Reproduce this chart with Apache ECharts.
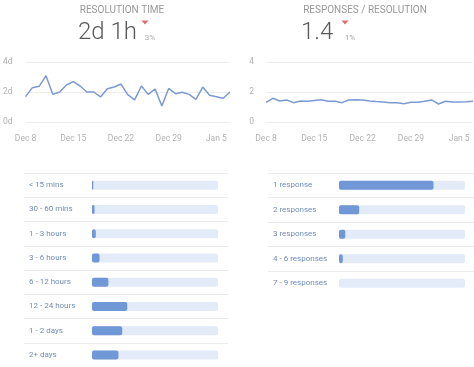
<!DOCTYPE html>
<html><head><meta charset="utf-8">
<script src="https://cdn.jsdelivr.net/npm/echarts@6/dist/echarts.min.js"></script>
<style>html,body{margin:0;padding:0;background:#fff}#c{width:474px;height:367px}</style>
</head><body><div id="c"></div>
<script>
const dates = ['Dec 8','Dec 9','Dec 10','Dec 11','Dec 12','Dec 13','Dec 14','Dec 15','Dec 16','Dec 17','Dec 18','Dec 19','Dec 20','Dec 21','Dec 22','Dec 23','Dec 24','Dec 25','Dec 26','Dec 27','Dec 28','Dec 29','Dec 30','Dec 31','Jan 1','Jan 2','Jan 3','Jan 4','Jan 5','Jan 6','Jan 7'];
const resolutionDays = [1.69,2.29,2.38,3.09,1.84,2.0,2.47,2.69,2.4,2.0,2.0,1.67,2.22,2.33,2.53,1.82,1.47,2.4,1.84,2.2,1.07,2.24,1.89,1.98,1.84,1.51,2.33,1.78,1.69,1.58,2.0];
const responsesPerRes = [1.31,1.58,1.4,1.47,1.29,1.4,1.38,1.44,1.49,1.38,1.38,1.29,1.47,1.49,1.47,1.4,1.36,1.33,1.29,1.29,1.22,1.31,1.31,1.38,1.47,1.2,1.38,1.33,1.33,1.35,1.38];
const leftYTicks = ['0d','2d','4d'];
const timeBuckets = ['< 15 mins','30 - 60 mins','1 - 3 hours','3 - 6 hours','6 - 12 hours','12 - 24 hours','1 - 2 days','2+ days'];
const timeShares = [1,2,3,6,13,28,24,21];
const respBuckets = ['1 response','2 responses','3 responses','4 - 6 responses','7 - 9 responses'];
const respShares = [75,16,5,3,0];
const kpiLeft = {title:'RESOLUTION TIME', value:'2d 1h', change:'3%'};
const kpiRight = {title:'RESPONSES / RESOLUTION', value:'1.4', change:'1%'};

const FONT = 'Roboto';
const lineColor = '#7b9ad3';
const barColor = '#7097d6';
const bgColor = '#e4ebf8';
const labelColor = '#728db4';
const axisColor = '#b3b3b3';
const sepColor = '#ececec';

const chart = echarts.init(document.getElementById('c'), null, {renderer:'canvas'});

function lineGrid(left, width){ return {left:left, top:62, width:width, height:60}; }

const option = {
  animation:false,
  textStyle:{fontFamily:FONT},
  title:[
    {text:kpiLeft.title, left:117, top:0, textAlign:'center', textStyle:{fontSize:10, fontWeight:'normal', color:'#999', fontFamily:FONT}},
    {text:kpiRight.title, left:360, top:0, textAlign:'center', textStyle:{fontSize:10, fontWeight:'normal', color:'#999', fontFamily:FONT}},
    {text:kpiLeft.value, left:73, top:16, textStyle:{fontSize:24, fontWeight:300, color:'#5a5a5a', fontFamily:FONT}},
    {text:kpiRight.value, left:296, top:16, textStyle:{fontSize:24, fontWeight:300, color:'#5a5a5a', fontFamily:FONT}},
    {text:kpiLeft.change, left:145, top:29, textAlign:'center', textStyle:{fontSize:8, fontWeight:'normal', color:'#aaa', fontFamily:FONT}},
    {text:kpiRight.change, left:345, top:29, textAlign:'center', textStyle:{fontSize:8, fontWeight:'normal', color:'#aaa', fontFamily:FONT}}
  ],
  graphic:[
    {type:'polygon', shape:{points:[[141.5,20.5],[148.5,20.5],[145,24.5]]}, style:{fill:'#e06c6c'}},
    {type:'polygon', shape:{points:[[341.5,20.5],[348.5,20.5],[345,24.5]]}, style:{fill:'#e06c6c'}}
  ],
  grid:[
    lineGrid(22, 208),
    lineGrid(266, 207),
    {left:24, top:173, width:204, height:199},
    {left:92, top:173, width:126, height:199},
    {left:268, top:173, width:206, height:122.5},
    {left:339, top:173, width:126, height:122.5}
  ],
  xAxis:[
    {gridIndex:0, type:'category', data:dates, boundaryGap:false,
      axisLine:{show:false}, axisTick:{show:false},
      axisLabel:{interval:6, color:axisColor, fontSize:8.5, margin:12, fontFamily:FONT}},
    {gridIndex:1, type:'category', data:dates, boundaryGap:false,
      axisLine:{show:false}, axisTick:{show:false},
      axisLabel:{interval:6, color:axisColor, fontSize:8.5, margin:12, fontFamily:FONT}},
    {gridIndex:2, type:'value', show:false, min:0, max:100},
    {gridIndex:3, type:'value', show:false, min:0, max:100},
    {gridIndex:4, type:'value', show:false, min:0, max:100},
    {gridIndex:5, type:'value', show:false, min:0, max:100}
  ],
  yAxis:[
    {gridIndex:0, type:'value', min:0, max:4, interval:2,
      axisLabel:{color:axisColor, fontSize:8.5, margin:13, fontFamily:FONT,
        formatter:function(v){ return leftYTicks[v/2]; }},
      splitLine:{lineStyle:{color:'#eeeeee'}}},
    {gridIndex:1, type:'value', min:0, max:4, interval:2,
      axisLabel:{color:axisColor, fontSize:8.5, margin:12, fontFamily:FONT},
      splitLine:{lineStyle:{color:'#eeeeee'}}},
    {gridIndex:2, type:'category', data:timeBuckets, inverse:true,
      axisLine:{show:false}, axisTick:{show:false},
      axisLabel:{inside:true, margin:5, color:labelColor, fontSize:8, fontFamily:FONT},
      splitLine:{show:true, showMinLine:true, showMaxLine:false, lineStyle:{color:sepColor}}},
    {gridIndex:3, type:'category', data:timeBuckets, inverse:true, show:false},
    {gridIndex:4, type:'category', data:respBuckets, inverse:true,
      axisLine:{show:false}, axisTick:{show:false},
      axisLabel:{inside:true, margin:5, color:labelColor, fontSize:8, fontFamily:FONT},
      splitLine:{show:true, showMinLine:true, showMaxLine:false, lineStyle:{color:sepColor}}},
    {gridIndex:5, type:'category', data:respBuckets, inverse:true, show:false}
  ],
  series:[
    {type:'line', xAxisIndex:0, yAxisIndex:0, data:resolutionDays, symbol:'none',
      lineStyle:{color:lineColor, width:1.5}},
    {type:'line', xAxisIndex:1, yAxisIndex:1, data:responsesPerRes, symbol:'none',
      lineStyle:{color:lineColor, width:1.5}},
    {type:'bar', xAxisIndex:2, yAxisIndex:2, data:[]},
    {type:'bar', xAxisIndex:3, yAxisIndex:3, data:timeShares, barWidth:9,
      itemStyle:{color:barColor, borderRadius:2},
      showBackground:true, backgroundStyle:{color:bgColor, borderRadius:2}},
    {type:'bar', xAxisIndex:4, yAxisIndex:4, data:[]},
    {type:'bar', xAxisIndex:5, yAxisIndex:5, data:respShares, barWidth:9,
      itemStyle:{color:barColor, borderRadius:2},
      showBackground:true, backgroundStyle:{color:bgColor, borderRadius:2}}
  ]
};
chart.setOption(option);
</script></body></html>
